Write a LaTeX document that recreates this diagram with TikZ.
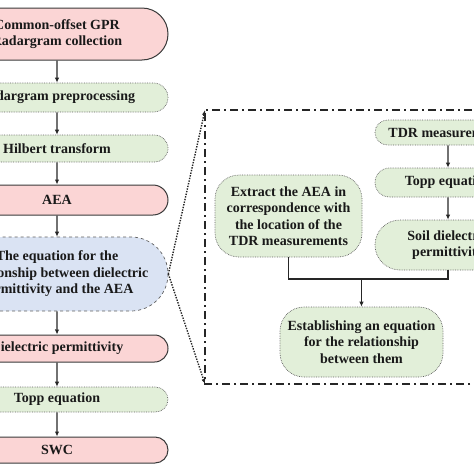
\documentclass[tikz,border=0pt]{standalone}
\usepackage{fontspec}
\setmainfont{Liberation Serif}
\usetikzlibrary{arrows.meta,positioning,calc,shapes.misc}
\definecolor{Pink}{HTML}{FBD5D5}
\definecolor{Green}{HTML}{E2EFD9}
\definecolor{Blue}{HTML}{DAE3F3}
\definecolor{Edge}{HTML}{3A3A3A}

\begin{document}
\begin{tikzpicture}[x=1pt,y=-1pt,
    font=\bfseries\fontsize{14}{16.5}\selectfont,
    every node/.style={text=black!90, align=center, inner sep=0pt},
    stadium/.style={rounded rectangle, minimum width=222pt, minimum height=28pt},
    result/.style={stadium, fill=Pink, draw=Edge, line width=1pt},
    process/.style={stadium, fill=Green, draw=Edge!80, densely dotted, line width=0.7pt},
    relation/.style={stadium, fill=Blue, draw=Edge!80, dashed, line width=0.7pt},
    tdrbox/.style={rounded rectangle, minimum width=146pt, fill=Green, draw=Edge!80, densely dotted, line width=0.7pt},
    roundbox/.style={rectangle, rounded corners=24pt, fill=Green, draw=Edge!80, densely dotted, line width=0.7pt},
    arr/.style={-{Latex[length=5pt,width=4.5pt]}, line width=1.3pt, black!85},
    zoomline/.style={-{Latex[length=5pt,width=4pt]}, line width=1.4pt, dash pattern=on 1.4pt off 1.3pt, black!85},
    panel/.style={line width=1.6pt, dash pattern=on 8pt off 4pt on 2pt off 4pt, black!85}]
  \useasboundingbox (0,0) rectangle (474,474);
  \clip (0,0) rectangle (474,474);

  % main workflow
  \node[result, minimum height=52pt] (gpr) at (57,34) {Common-offset GPR\\Radargram collection};
  \node[process, minimum height=29pt] (prep) at (57,97.5) {Radargram preprocessing};
  \node[process, minimum height=27pt] (hilb) at (57,148.5) {Hilbert transform};
  \node[result, minimum height=30pt] (aea) at (57,200) {AEA};
  \node[relation, minimum height=74pt] (eqn) at (57,274) {The equation for the\\relationship between dielectric\\permittivity and the AEA};
  \node[result, minimum height=27pt] (perm) at (57,348.5) {Dielectric permittivity};
  \node[process, minimum height=25pt] (topp) at (57,399.5) {Topp equation};
  \node[result, minimum height=26pt] (swc) at (57,450) {SWC};

  \foreach \a/\b in {gpr/prep,prep/hilb,hilb/aea,aea/eqn,eqn/perm,perm/topp,topp/swc}
    \draw[arr] (\a) -- (\b);

  % detail panel
  \coordinate (boxtl) at (205,110);
  \coordinate (boxbl) at (205,384);
  \coordinate (boxbr) at (500,384);
  \coordinate (boxtr) at (500,110);
  \draw[panel] (boxbr) -- (boxbl) -- (boxtl) -- (boxtr);
  \draw[zoomline] (eqn.east) -- (boxtl);
  \draw[zoomline] (eqn.east) -- (boxbl);

  \node[tdrbox, minimum height=25pt] (tdr) at (448,132.5) {TDR measurements};
  \node[tdrbox, minimum height=29pt] (topp2) at (448,182.5) {Topp equation};
  \node[tdrbox, minimum height=50pt] (soil) at (448,245) {Soil dielectric\\permittivity};
  \node[roundbox, minimum width=147pt, minimum height=82pt] (extr) at (288.5,216)
    {Extract the AEA in\\correspondence with\\the location of the\\TDR measurements};
  \node[roundbox, minimum width=163pt, minimum height=70pt] (estab) at (361.5,342)
    {Establishing an equation\\for the relationship\\between them};

  \draw[arr] (tdr) -- (topp2);
  \draw[arr] (topp2) -- (soil);
  \coordinate (join) at (estab.north |- 0,279);
  \draw[line width=1.3pt, black!85] (extr.south) |- (join) -| (soil.south);
  \draw[arr] (join) -- (estab.north);
\end{tikzpicture}
\end{document}
